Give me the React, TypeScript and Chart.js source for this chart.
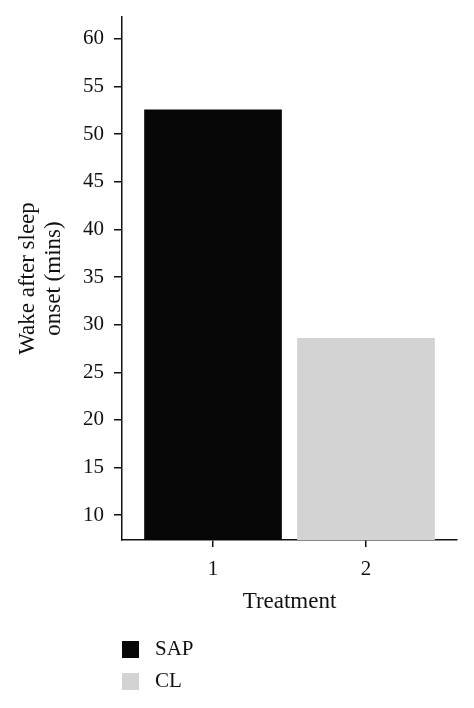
import { useEffect, useRef } from 'react';
import { Chart, registerables } from 'chart.js';

Chart.register(...registerables);

// values
const groups = ['SAP', 'CL'];
const groupX = [1, 2];
const wasoMins = [52.6, 28.6];
const groupColors = ['#070707', '#d3d3d3'];
const yTickValues = [10, 15, 20, 25, 30, 35, 40, 45, 50, 55, 60];
const xTickValues = [1, 2];

const FONT = "'Liberation Serif', 'DejaVu Serif', serif";
const INK = '#111111';

// legend stacked vertically under the x axis title, left edge on the y axis
const stackedLegend = {
  id: 'stackedLegend',
  afterDraw(chart: Chart) {
    const { ctx } = chart;
    const x0 = chart.chartArea.left;
    const top = chart.scales.x.bottom + 21;
    const box = 17;
    const rowGap = 32;
    ctx.save();
    ctx.font = `21px ${FONT}`;
    ctx.textBaseline = 'middle';
    ctx.textAlign = 'left';
    chart.data.datasets.forEach((ds, i) => {
      const y = top + i * rowGap;
      ctx.fillStyle = ds.backgroundColor as string;
      ctx.fillRect(x0, y, box, box);
      ctx.fillStyle = INK;
      ctx.fillText(ds.label as string, x0 + box + 16, y + box / 2);
    });
    ctx.restore();
  },
};

// keep label overflow from shrinking the plot area
const noOverflow = (scale: any) => {
  scale.paddingTop = 0;
  scale.paddingBottom = 0;
  scale.paddingLeft = 0;
  scale.paddingRight = 0;
};

export default function App() {
  const canvasRef = useRef<HTMLCanvasElement | null>(null);
  const chartRef = useRef<Chart | null>(null);

  useEffect(() => {
    document.body.style.margin = '0';
    const ctx = canvasRef.current!.getContext('2d')!;

    if (chartRef.current) {
      chartRef.current.destroy();
      chartRef.current = null;
    }

    chartRef.current = new Chart(ctx, {
      type: 'bar',
      data: {
        datasets: groups.map((g, i) => ({
          label: g,
          data: [{ x: groupX[i], y: wasoMins[i] }],
          backgroundColor: groupColors[i],
          borderWidth: 0,
          grouped: false,
          categoryPercentage: 1,
          barPercentage: 0.9,
        })),
      },
      options: {
        responsive: true,
        maintainAspectRatio: false,
        animation: false,
        layout: { padding: { top: 17, right: 17, left: 0, bottom: 88 } },
        plugins: {
          legend: { display: false },
          tooltip: { enabled: false },
        },
        scales: {
          x: {
            type: 'linear',
            offset: false,
            min: 0.405,
            max: 2.595,
            afterBuildTicks: (scale: any) => {
              scale.ticks = xTickValues.map((v) => ({ value: v }));
            },
            afterFit: (scale: any) => {
              scale.height = 80;
              noOverflow(scale);
            },
            grid: {
              display: true,
              offset: false,
              drawOnChartArea: false,
              tickLength: 7,
              color: INK,
              lineWidth: 1.5,
            },
            border: { display: true, color: INK, width: 1.5 },
            ticks: { color: INK, font: { family: FONT, size: 21 }, padding: 10 },
            title: {
              display: true,
              text: 'Treatment',
              color: INK,
              font: { family: FONT, size: 23 },
              padding: { top: 0, bottom: 4 },
            },
          },
          y: {
            type: 'linear',
            min: 7.4,
            max: 62.3,
            afterBuildTicks: (scale: any) => {
              scale.ticks = yTickValues.map((v) => ({ value: v }));
            },
            afterFit: (scale: any) => {
              scale.width = 122;
              noOverflow(scale);
            },
            grid: { display: true, drawOnChartArea: false, tickLength: 8, color: INK, lineWidth: 1.5 },
            border: { display: true, color: INK, width: 1.5 },
            ticks: { color: INK, font: { family: FONT, size: 21 }, padding: 10 },
            title: {
              display: true,
              text: ['Wake after sleep', 'onset (mins)'],
              color: INK,
              font: { family: FONT, size: 23, lineHeight: 1.17 },
              padding: { top: 14, bottom: 0 },
            },
          },
        },
      },
      plugins: [stackedLegend],
    });

    return () => {
      if (chartRef.current) {
        chartRef.current.destroy();
        chartRef.current = null;
      }
    };
  }, []);

  return (
    <div style={{ position: 'relative', width: 474, height: 708, background: '#fff' }}>
      <canvas ref={canvasRef} />
    </div>
  );
}
